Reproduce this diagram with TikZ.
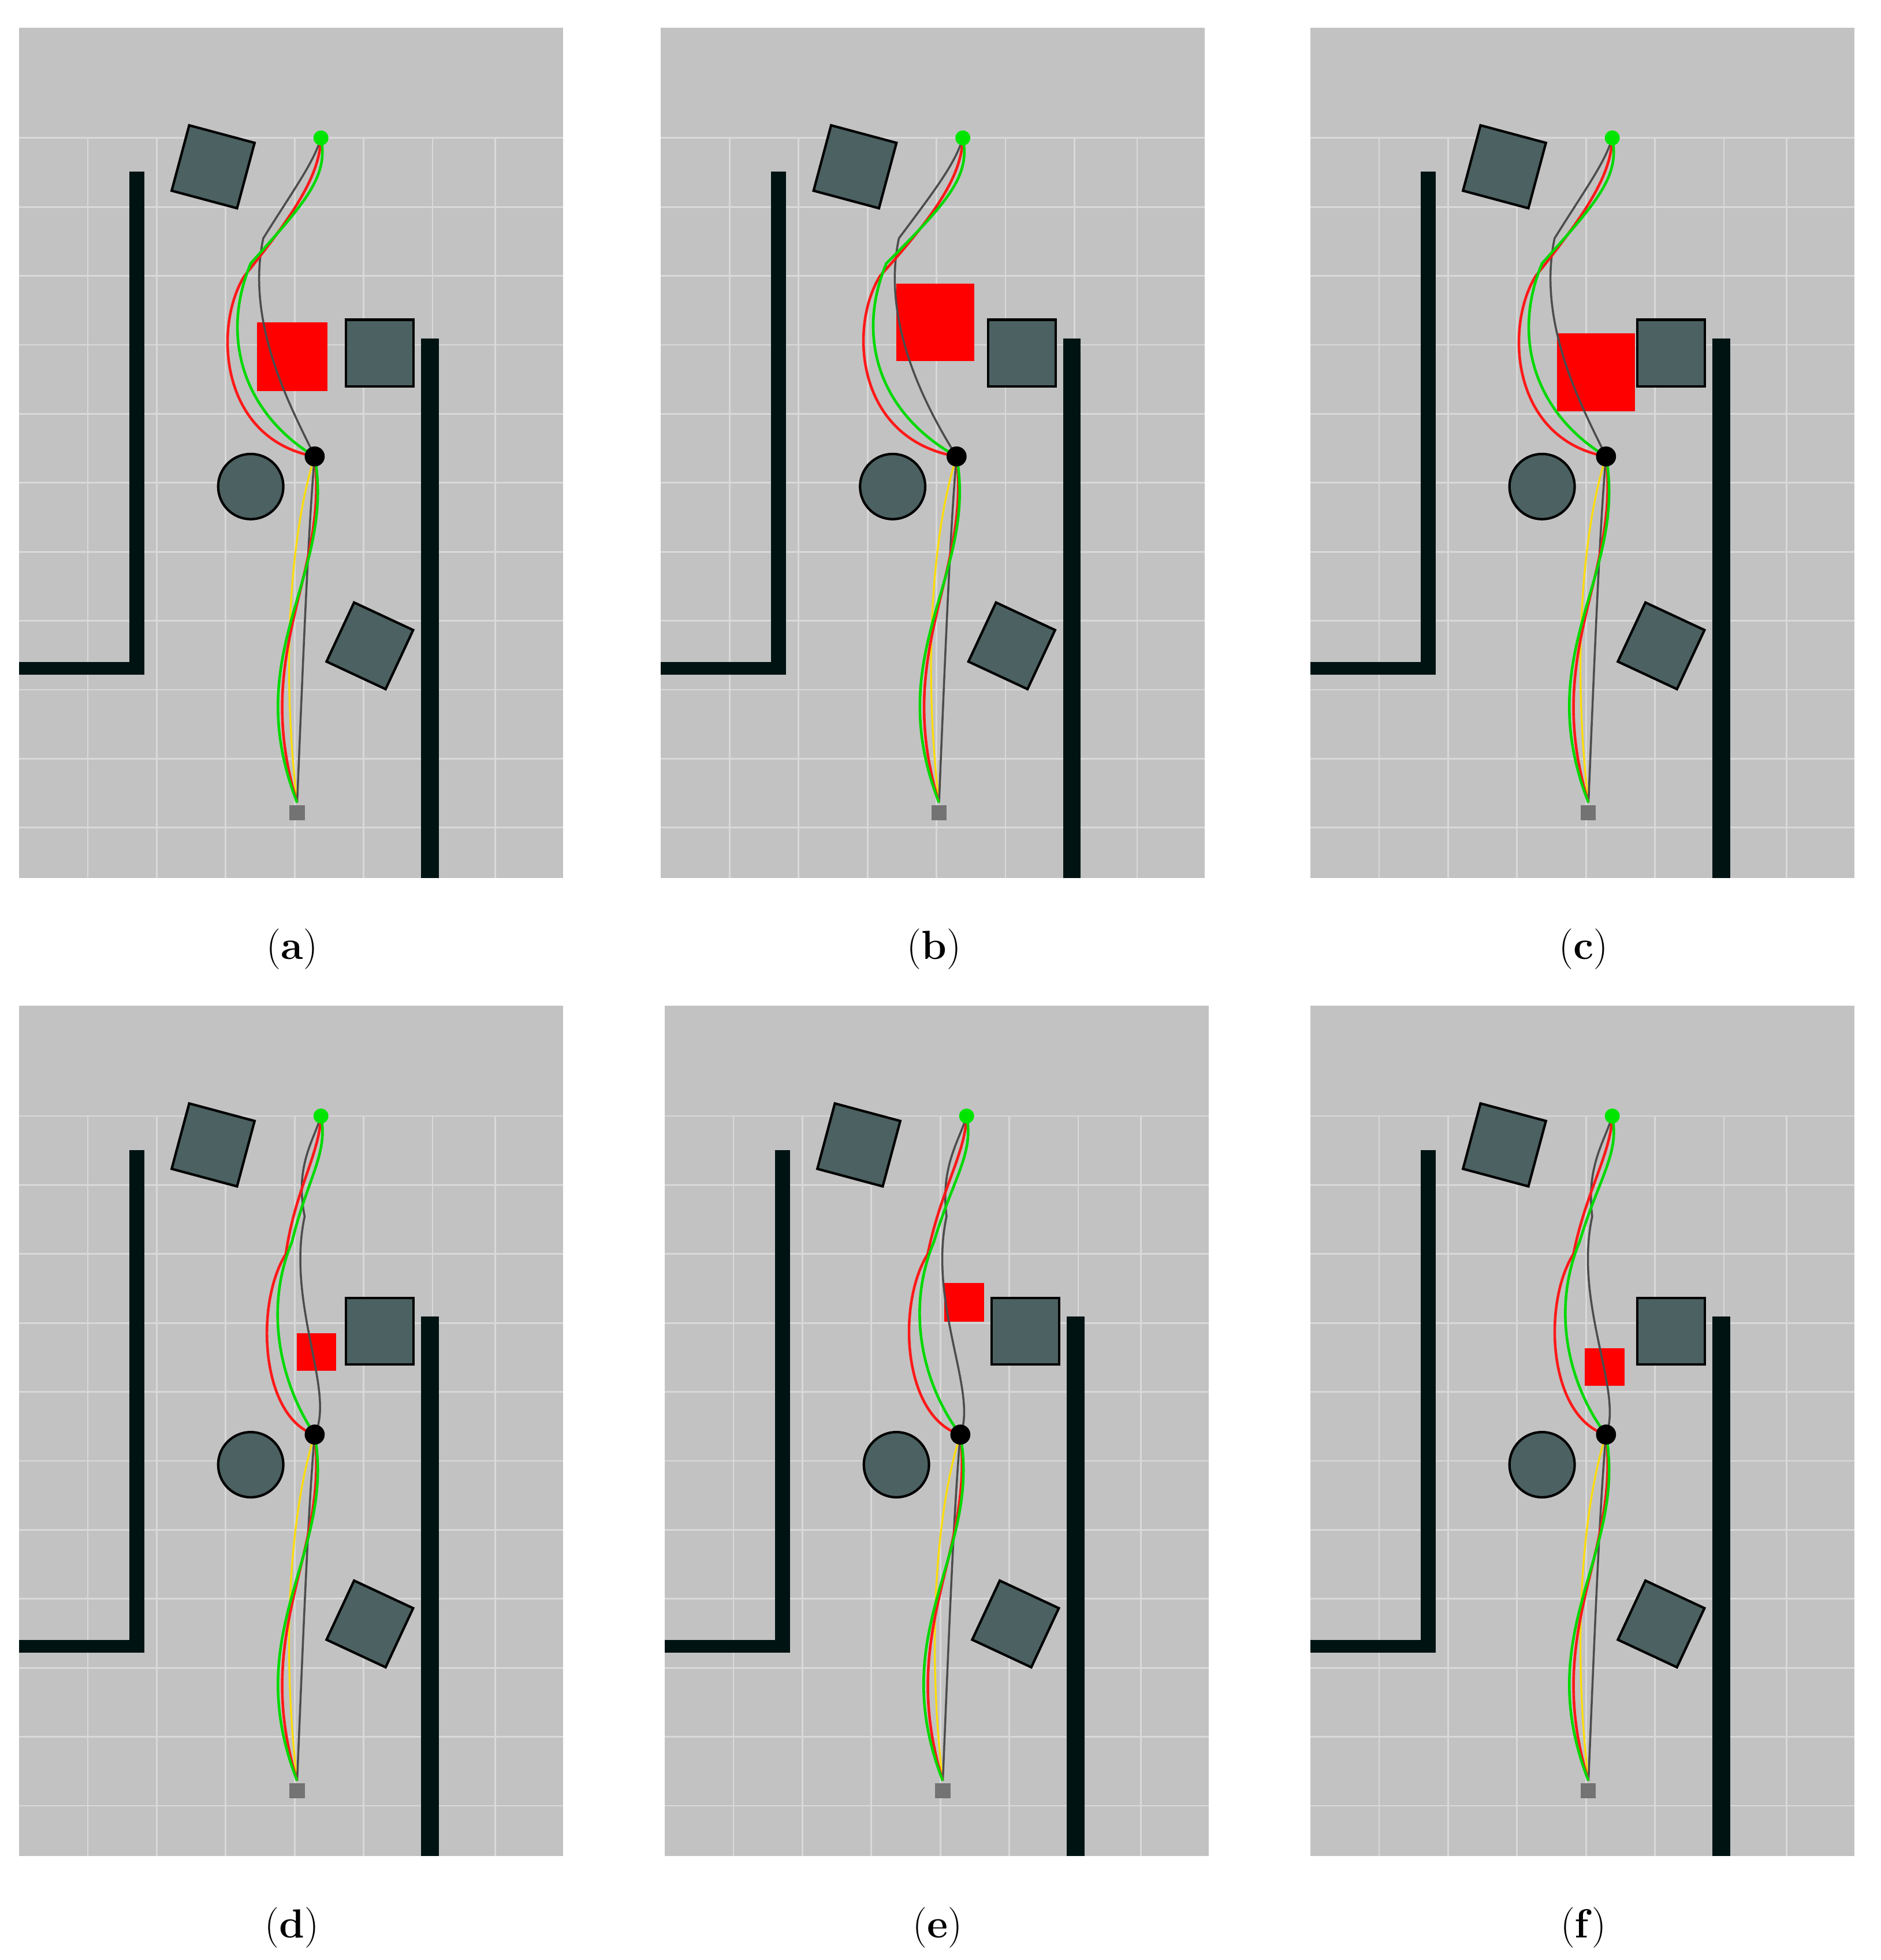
\documentclass[tikz,border=0pt]{standalone}
\begin{document}
\begin{tikzpicture}[x=0.021713cm,y=-0.021713cm,
  bgc/.style={fill=black!24},
  obst/.style={fill=black!60!teal!40!gray,draw=black,line width=1.2pt},
  wall/.style={fill=black!85!teal},
  path/.style={line width=1.3pt}]
\useasboundingbox (0,0) rectangle (1500,1563);
\fill[white] (0,0) rectangle (1500,1563);
\newcommand{\panel}[8]{%
\begin{scope}[shift={(#1,#2)}]
 \fill[bgc] (15,22) rectangle (449,700);
 \foreach \gx in {70,125,180,235,290,345,395} \draw[black!15,line width=0.8pt] (\gx,110) -- (\gx,700);
 \foreach \gy in {110,165,220,275,330,385,440,495,550,605,660} \draw[black!15,line width=0.8pt] (15,\gy) -- (449,\gy);
 \fill[wall] (103,137) rectangle (115,538);
 \fill[wall] (15,528) rectangle (115,538);
 \fill[wall] (336,270) rectangle (350,700);
 \draw[obst,rotate around={-15:(170,133)}] (143,106) rectangle (197,160);
 \draw[obst] (276,255) rectangle (330,308);
 \draw[obst] (200,388) circle (26);
 \draw[obst,rotate around={-25:(295,515)}] (269,489) rectangle (321,541);
 \fill[red] (#4,#5) rectangle (#6,#7);
 % paths
 \draw[yellow!80!orange,line width=0.9pt] (237,640) .. controls (225,540) and (230,430) .. (251,364);
 \draw[black!70,line width=1pt] (237,640) .. controls (242,520) and (246,420) .. (251,364)
   .. controls (#8+50,330) and (#8+10,260) .. (#8+25,190) .. controls (235,150) and (250,130) .. (256,110);
 \draw[red!90,path] (237,640) .. controls (200,520) and (262,460) .. (251,364)
   .. controls (#8-10,350) and (#8-15,260) .. (#8+10,220) .. controls (235,170) and (255,140) .. (256,110);
 \draw[green!85!black,path] (237,640) .. controls (190,520) and (268,460) .. (251,364)
   .. controls (#8+10,330) and (#8-10,270) .. (#8+15,210) .. controls (245,160) and (262,140) .. (256,110);
 \fill[green!90!black] (256,110) circle (6);
 \fill[black] (251,364) circle (8);
 \fill[black!55] (231,642) rectangle (243,654);
 \node at (233,757) {\fontsize{20}{24}\selectfont(\textbf{#3})};
\end{scope}}
\panel{0}{0}{a}{205}{257}{261}{312}{185}
\panel{512}{0}{b}{203}{226}{265}{288}{180}
\panel{1030}{0}{c}{212}{266}{274}{328}{185}
\panel{0}{780}{d}{237}{283}{268}{313}{218}
\panel{515}{780}{e}{238}{243}{270}{274}{215}
\panel{1030}{780}{f}{234}{295}{266}{325}{215}
\end{tikzpicture}
\end{document}
